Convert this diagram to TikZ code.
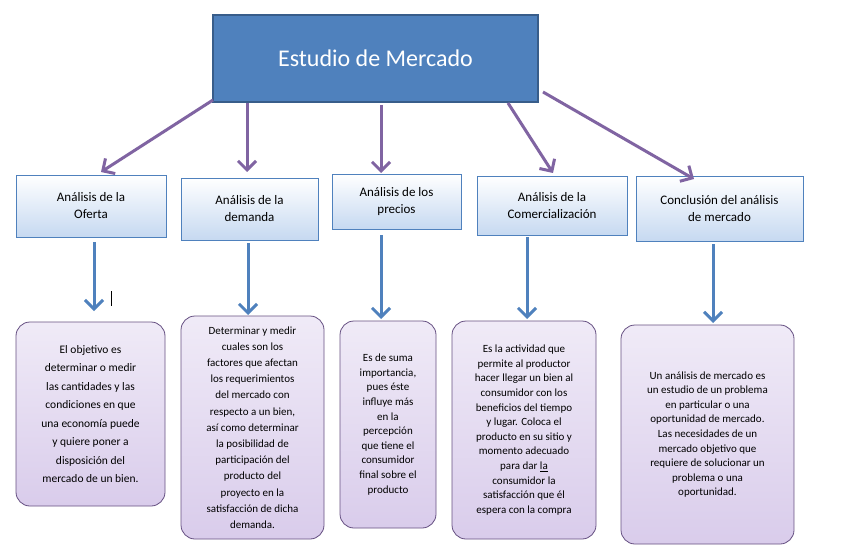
\documentclass[tikz,border=0pt]{standalone}
\usepackage{fontspec}
\setmainfont{Carlito}
\usetikzlibrary{arrows.meta}
\definecolor{tblue}{HTML}{4F81BD}
\definecolor{tborder}{HTML}{385D8A}
\definecolor{pur}{HTML}{8064A2}
\definecolor{lblue}{HTML}{C6D9F1}
\definecolor{lpur}{HTML}{D9CCEB}
\begin{document}
\begin{tikzpicture}[x=1pt,y=-1pt,
 sect/.style={draw=tblue,line width=0.8pt,top color=white,bottom color=lblue,align=center,font=\fontsize{13}{17}\selectfont,inner sep=0pt},
 desc/.style={draw=pur!80!black,line width=0.8pt,rounded corners=14pt,top color=lpur!40,bottom color=lpur,align=center,font=\fontsize{11}{14.6}\selectfont,inner sep=0pt},
 parr/.style={draw=pur,line width=3pt,-{Straight Barb[length=9pt,width=18pt]}},
 barr/.style={draw=tblue,line width=3pt,-{Straight Barb[length=9pt,width=18pt]}}]
\useasboundingbox[fill=white] (0,0) rectangle (864,556);
\node[draw=tborder,line width=1.5pt,fill=tblue,minimum width=325pt,minimum height=87pt,text=white,font=\fontsize{24}{28}\selectfont] (t) at (375.5,58.5) {Estudio de Mercado};
\node[sect,minimum width=150pt,minimum height=62pt] (s1) at (91,206) {Análisis de la\\Oferta};
\node[sect,minimum width=137pt,minimum height=62pt] (s2) at (249.5,209) {Análisis de la\\demanda};
\node[sect,minimum width=129pt,minimum height=55pt] (s3) at (396.5,201.5) {Análisis de los\\precios};
\node[sect,minimum width=150pt,minimum height=59pt] (s4) at (552,205.5) {Análisis de la\\Comercialización};
\node[sect,minimum width=167pt,minimum height=65pt] (s5) at (719.5,208.5) {Conclusión del análisis\\de mercado};
\coordinate (a1) at (213,100); \coordinate (b1) at (101,172);
\coordinate (a2) at (247,103); \coordinate (b2) at (247,172);
\coordinate (a3) at (381,105); \coordinate (b3) at (381,173);
\coordinate (a4) at (508,103); \coordinate (b4) at (553,173);
\coordinate (a5) at (543,92); \coordinate (b5) at (694,179);
\foreach \i in {1,...,5} \draw[parr] (a\i) -- (b\i);
\node[desc,minimum width=149pt,minimum height=184pt,font=\fontsize{11.5}{18.5}\selectfont] (d1) at (90.5,414) {El objetivo es\\determinar o medir\\las cantidades y las\\condiciones en que\\una economía puede\\y quiere poner a\\disposición del\\mercado de un bien.};
\node[desc,minimum width=143pt,minimum height=223pt,font=\fontsize{11}{16.2}\selectfont] (d2) at (252.5,427.5) {Determinar y medir\\cuales son los\\factores que afectan\\los requerimientos\\del mercado con\\respecto a un bien,\\así como determinar\\la posibilidad de\\participación del\\producto del\\proyecto en la\\satisfacción de dicha\\demanda.};
\node[desc,minimum width=96pt,minimum height=207pt] (d3) at (388,424.5) {Es de suma\\importancia,\\pues éste\\influye más\\en la\\percepción\\que tiene el\\consumidor\\final sobre el\\producto};
\node[desc,minimum width=144pt,minimum height=218pt] (d4) at (524,430) {Es la actividad que\\permite al productor\\hacer llegar un bien al\\consumidor con los\\beneficios del tiempo\\y lugar. Coloca el\\producto en su sitio y\\momento adecuado\\para dar \underline{la}\\consumidor la\\satisfacción que él\\espera con la compra};
\node[desc,minimum width=173pt,minimum height=219pt] (d5) at (707.5,434.5) {Un análisis de mercado es\\un estudio de un problema\\en particular o una\\oportunidad de mercado.\\Las necesidades de un\\mercado objetivo que\\requiere de solucionar un\\problema o una\\oportunidad.};
\draw[barr] (94,242) -- (94,311);
\draw[barr] (248,243) -- (248,315);
\draw[barr] (381,235) -- (381,319);
\draw[barr] (527,237) -- (527,319);
\draw[barr] (713,244) -- (713,323);
\draw[line width=0.8pt] (111,291) -- (111,306);
\end{tikzpicture}
\end{document}
